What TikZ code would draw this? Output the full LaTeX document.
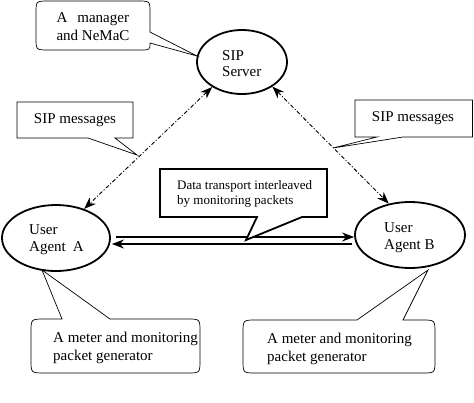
\documentclass[tikz,border=0pt]{standalone}
\usepackage{fontspec}
\setmainfont{Liberation Serif}
\usetikzlibrary{arrows.meta,calc,shapes.geometric}
\begin{document}
\begin{tikzpicture}[x=1pt,y=-1pt,
  txt/.style={font=\fontsize{15}{18}\selectfont, align=left, inner sep=0pt},
  smalltxt/.style={font=\fontsize{13}{15.5}\selectfont, align=left, inner sep=0pt},
  ell/.style={ellipse, draw, line width=1.8pt, inner sep=0pt},
  callout/.style={draw, line width=0.7pt, fill=white},
  thickbox/.style={draw, line width=1.8pt, fill=white},
  sipmsg/.style={line width=0.9pt, dash pattern=on 4pt off 2pt on 1pt off 2pt,
     {Stealth[length=12pt,width=9pt]}-{Stealth[length=12pt,width=9pt]}},
  flow/.style={line width=1.2pt, -{Stealth[length=12pt,width=9pt]}}
]
\useasboundingbox (0,0) rectangle (474,402);

% ellipses
\node[ell, minimum width=90pt, minimum height=64pt] (S) at (242,62) {};
\node[ell, minimum width=108pt, minimum height=66pt] (A) at (56,238) {};
\node[ell, minimum width=110pt, minimum height=66pt] (B) at (410,235) {};

\node[txt, anchor=west, font=\fontsize{15}{16}\selectfont] (tS) at (222,64) {SIP\\Server};
\node[txt, anchor=west, font=\fontsize{15}{17}\selectfont] (tA) at (29,240) {User\\Agent\hspace{7pt}A};
\node[txt, anchor=west, font=\fontsize{15}{17}\selectfont] (tB) at (384,237.5) {User\\Agent B};

% SIP signalling arrows
\draw[sipmsg] (S.220) -- (A.46);
\draw[sipmsg] (S.-39) -- (B.124);

% data transport arrows
\coordinate (a1) at ($(A.east)+(5,-1)$);
\coordinate (b1) at ($(B.west)+(0,2)$);
\coordinate (a2) at ($(A.east)+(1,6)$);
\coordinate (b2) at ($(B.west)+(-2,9)$);
\draw[flow] (a1) -- (b1);
\draw[flow] (b2) -- (a2);

% top-left callout
\draw[callout] (150,32) -- (197,56) -- (150,43) .. controls (150,50) .. (140,50)
  -- (49,50) .. controls (36,50) .. (36,38) -- (36,13) .. controls (36,1) .. (49,1)
  -- (138,1) .. controls (150,1) .. (150,13) -- cycle;
\node[txt] (tMgr) at (93,26.5) {A\hspace{10pt}manager\\and NeMaC};

% SIP messages left
\draw[callout] (88,138) -- (137,155) -- (115,138) -- (133,138) -- (133,102) -- (17,102) -- (17,138) -- cycle;
\node[txt] (tSipL) at (75,120) {SIP messages};

% SIP messages right
\draw[callout] (377,137) -- (333,148) -- (403,137) -- (472.5,137) -- (472.5,100) -- (355,100) -- (355,137) -- cycle;
\node[txt] (tSipR) at (413,118.5) {SIP messages};

% data transport callout
\draw[thickbox] (257,217) -- (246,240) -- (302,217) -- (327,217) -- (327,169) -- (160,169) -- (160,217) -- cycle;
\node[smalltxt, anchor=west] (tData) at (177,194) {Data transport interleaved\\by monitoring packets};

% bottom-left callout
\draw[callout] (62,319) -- (42,270) -- (110,319) -- (187,319) .. controls (200,319) .. (200,332)
  -- (200,360) .. controls (200,373) .. (187,373) -- (45,373) .. controls (31,373) .. (31,360)
  -- (31,332) .. controls (31,319) .. (45,319) -- cycle;
\node[txt, anchor=west] (tMeterA) at (53,348) {A meter and monitoring\\packet generator};

% bottom-right callout
\draw[callout] (357,320) -- (428,270) -- (403,320) -- (422,320) .. controls (435,320) .. (435,333)
  -- (435,360) .. controls (435,373) .. (422,373) -- (256,373) .. controls (243,373) .. (243,360)
  -- (243,333) .. controls (243,320) .. (256,320) -- cycle;
\node[txt, anchor=west] (tMeterB) at (267,349) {A meter and monitoring\\packet generator};

\end{tikzpicture}
\end{document}
